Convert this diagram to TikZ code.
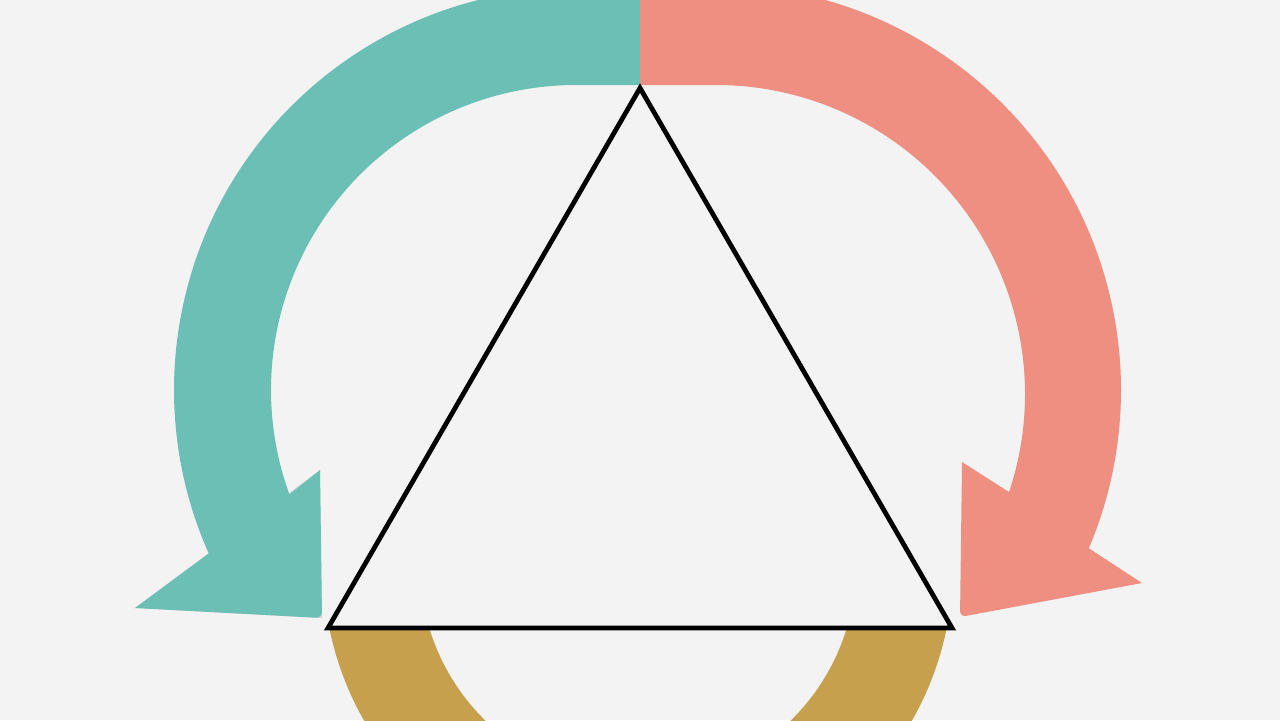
\documentclass[tikz,border=0pt]{standalone}
\usetikzlibrary{calc}

\definecolor{bgcol}{HTML}{F3F3F3}
\definecolor{tealarc}{HTML}{6BBFB5}
\definecolor{salmonarc}{HTML}{EE8F81}
\definecolor{goldarc}{HTML}{C7A04D}

\tikzset{
  outline/.style={draw=black, line width=1.35pt, line join=miter},
  softshadow/.style={fill=black, opacity=0.03},
}

\begin{document}
\begin{tikzpicture}[x=0.01cm, y=0.01cm]
  \useasboundingbox (0,0) rectangle (1280,720);
  \fill[bgcol] (0,0) rectangle (1280,720);
  \clip (0,0) rectangle (1280,720);

  \coordinate (ctrL) at (576,330);
  \coordinate (ctrR) at (716,330);
  \coordinate (ctrRi) at (716,326);
  \coordinate (ctrB) at (638,155);
  \coordinate (seamIn) at (640,635);

  \coordinate (apex) at (640,632);
  \coordinate (baseL) at (328,92);
  \coordinate (baseR) at (952,92);

  % left arrow
  \coordinate (barbL1) at (320,250);
  \coordinate (barbL2) at (135,112);
  \coordinate (tipL) at (322,102);
  \foreach \d in {3,6,9,12}
    \fill[softshadow, shift={(\d/2,-\d)}] (barbL1) -- (barbL2) -- (tipL) -- cycle;
  \fill[tealarc] ($(ctrL)+(80.8:402)$) arc[start angle=80.8, end angle=204, radius=402]
    -- (barbL2) [rounded corners=0.6mm] -- (tipL) [sharp corners] -- (barbL1)
    -- ($(ctrL)+(200:305)$) arc[start angle=200, end angle=90, radius=305]
    -- (seamIn) -- cycle;

  % right arrow
  \coordinate (barbR1) at (962,258);
  \coordinate (barbR2) at (1142,137);
  \coordinate (tipR) at (960,103);
  \fill[salmonarc] ($(ctrR)+(100.8:405)$) arc[start angle=100.8, end angle=-23, radius=405]
    -- (barbR2) [rounded corners=0.6mm] -- (tipR) [sharp corners] -- (barbR1)
    -- ($(ctrRi)+(-18.5:309)$) arc[start angle=-18.5, end angle=90, radius=309]
    -- (seamIn) -- cycle;

  % bottom ring
  \begin{scope}
    \clip (0,0) rectangle (1280,92);
    \fill[goldarc, even odd rule] (ctrB) circle[radius=315] (ctrB) circle[radius=218];
  \end{scope}

  \draw[outline] (apex) -- (baseL) -- (baseR) -- cycle;
\end{tikzpicture}
\end{document}
